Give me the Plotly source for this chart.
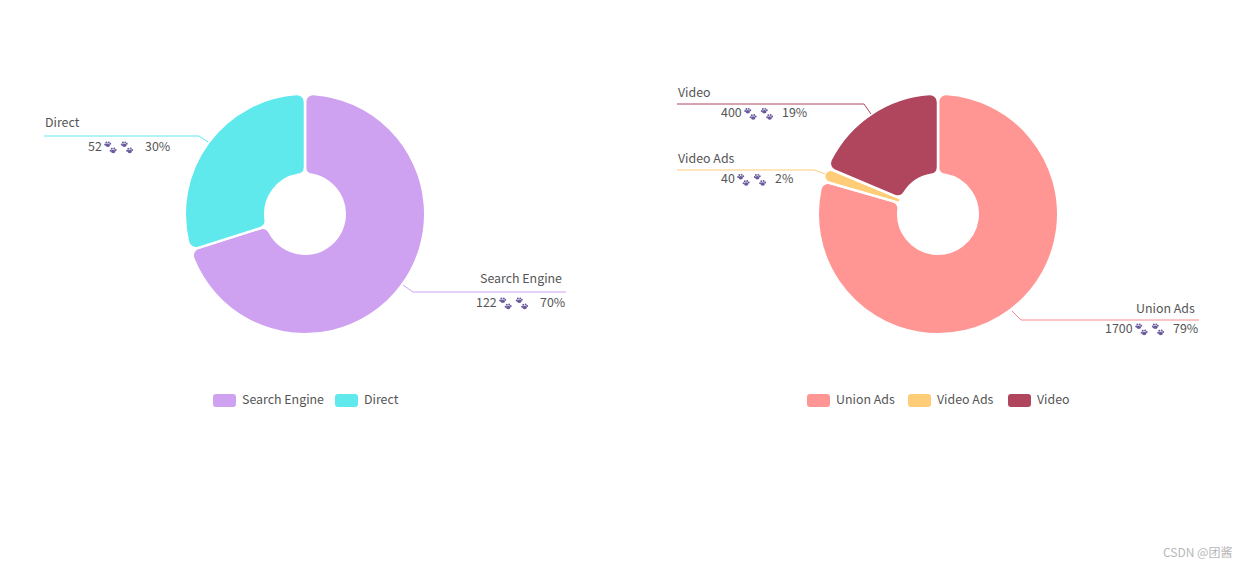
import base64
import plotly.graph_objects as go

W, H = 1247, 568
left_labels = ["Search Engine", "Direct"]
left_values = [122, 52]
left_colors = ["#CFA2F1", "#5FE9ED"]
right_labels = ["Union Ads", "Video Ads", "Video"]
right_values = [1700, 40, 400]
right_colors = ["#FF9694", "#FFCC77", "#B0455E"]
pcts = {"Search Engine": "70%", "Direct": "30%", "Union Ads": "79%", "Video Ads": "2%", "Video": "19%"}

FONT = "Noto Sans CJK SC"
TXT = "#555555"
px = lambda x: x / W
py = lambda y: 1 - y / H
R = 120.25
CY = 214


def pie(cx, labels, values, colors):
    return go.Pie(
        labels=labels, values=values, sort=False, direction="clockwise", rotation=0,
        hole=39.75 / 120.25, textinfo="none", hoverinfo="label+value+percent", showlegend=False,
        marker=dict(colors=colors, line=dict(color="white", width=2.5)),
        domain=dict(x=[px(cx - R), px(cx + R)], y=[py(CY + R), py(CY - R)]),
    )


fig = go.Figure([pie(305, left_labels, left_values, left_colors),
                 pie(938, right_labels, right_values, right_colors)])

ann, shapes, images = [], [], []


def text(x, y, s, anchor="left", color=TXT, size=12.4, font=FONT):
    ann.append(dict(x=px(x), y=py(y - 0.7), xref="paper", yref="paper", text=s, showarrow=False,
                    xanchor=anchor, yanchor="middle", borderpad=0, borderwidth=0,
                    font=dict(family=font, size=size, color=color)))


foot = ('<ellipse cx="7" cy="8" rx="4" ry="3.3"/><circle cx="2.2" cy="6.4" r="1.8"/>'
        '<circle cx="4.4" cy="2.9" r="1.8"/><circle cx="8.8" cy="2.5" r="1.8"/><circle cx="11.6" cy="5.2" r="1.8"/>')
paw_svg = ('<svg xmlns="http://www.w3.org/2000/svg" viewBox="0 0 24 24"><g fill="#6A5A9C">'
           f'<g>{foot}</g><g transform="translate(10,11.5)">{foot}</g></g></svg>')
paw_uri = "data:image/svg+xml;base64," + base64.b64encode(paw_svg.encode()).decode()


def paws(x, y):
    for dx in (0, 16.5):
        images.append(dict(source=paw_uri, xref="paper", yref="paper", x=px(x + dx), y=py(y),
                           sizex=13 / W, sizey=13 / H, xanchor="left", yanchor="top",
                           sizing="stretch", layer="above"))


def callout(name, value, color, tx, ty, anchor, line, vx, paw_x, px_x, vy):
    text(tx, ty, name, anchor)
    shapes.append(dict(type="path", xref="paper", yref="paper",
                       path="M " + " L ".join(f"{px(a)},{py(b)}" for a, b in line),
                       line=dict(color=color, width=1), fillcolor="rgba(0,0,0,0)"))
    text(vx, vy, str(value), "left")
    paws(paw_x, vy - 5.5)
    text(px_x, vy, pcts[name], "left")


callout("Direct", 52, "#5FE9ED", 45, 123, "left", [(44, 136), (199, 136), (208, 142)], 88, 104, 145, 146.5)
callout("Search Engine", 122, "#CFA2F1", 562, 279, "right", [(566, 292), (413, 292), (403, 285)], 476, 499, 540, 302.5)
callout("Union Ads", 1700, "#F58A8C", 1195, 309, "right", [(1199, 320), (1021, 320), (1012, 311)], 1105, 1135, 1173, 328.5)
callout("Video", 400, "#B0455E", 678, 93, "left", [(677, 104), (864, 104), (871, 114)], 721, 744, 782, 113)
callout("Video Ads", 40, "#FFCC77", 678, 159, "left", [(677, 170), (814, 170), (825, 174)], 721, 737, 775, 179)


def legend_item(x, name, color):
    y0, y1, x1, r = 394, 407, x + 23, 3
    p = (f"M {px(x + r)},{py(y0)} L {px(x1 - r)},{py(y0)} Q {px(x1)},{py(y0)} {px(x1)},{py(y0 + r)} "
         f"L {px(x1)},{py(y1 - r)} Q {px(x1)},{py(y1)} {px(x1 - r)},{py(y1)} L {px(x + r)},{py(y1)} "
         f"Q {px(x)},{py(y1)} {px(x)},{py(y1 - r)} L {px(x)},{py(y0 + r)} Q {px(x)},{py(y0)} {px(x + r)},{py(y0)} Z")
    shapes.append(dict(type="path", xref="paper", yref="paper", path=p, fillcolor=color, line=dict(width=0)))
    text(x + 29, 400, name, "left", "#555555")


for x, n, c in [(213, "Search Engine", left_colors[0]), (335, "Direct", left_colors[1]),
                (807, "Union Ads", right_colors[0]), (908, "Video Ads", right_colors[1]),
                (1008, "Video", right_colors[2])]:
    legend_item(x, n, c)

text(1232, 552, "CSDN @团酱", "right", "#b8b8b8", 12)

fig.update_layout(width=W, height=H, autosize=False, margin=dict(l=0, r=0, t=0, b=0),
                  paper_bgcolor="white", plot_bgcolor="white", annotations=ann, shapes=shapes, images=images)

# Plotly pies have no corner radius: reshape each drawn slice using the angles plotly computed.
ROUND_JS = """
document.body.style.margin='0';document.body.style.overflow='hidden';
var gd=document.querySelector('.js-plotly-plot');
var C=8;
function sector(cx,cy,r0,r1,a0,a1){
  function P(r,a){return (cx+r*Math.sin(a)).toFixed(3)+','+(cy-r*Math.cos(a)).toFixed(3);}
  var s=Math.sin((a1-a0)/2);
  if((a1-a0)>=Math.PI) s=1;
  var co=Math.min(C,r1*s/(1+s)), ci=Math.min(C,r0*s/(1-s||1));
  var dO=Math.asin(co/(r1-co)), dI=Math.asin(ci/(r0+ci));
  var eO=Math.sqrt(Math.pow(r1-co,2)-co*co), eI=Math.sqrt(Math.pow(r0+ci,2)-ci*ci);
  var big=(a1-a0-2*dO)>Math.PI?1:0, bigI=(a1-a0-2*dI)>Math.PI?1:0;
  return 'M'+P(eO,a0)+'A'+co+','+co+' 0 0 1 '+P(r1,a0+dO)
    +'A'+r1+','+r1+' 0 '+big+' 1 '+P(r1,a1-dO)
    +'A'+co+','+co+' 0 0 1 '+P(eO,a1)
    +'L'+P(eI,a1)
    +'A'+ci+','+ci+' 0 0 1 '+P(r0,a1-dI)
    +'A'+r0+','+r0+' 0 '+bigI+' 0 '+P(r0,a0+dI)
    +'A'+ci+','+ci+' 0 0 1 '+P(eI,a0)+'Z';
}
gd.querySelectorAll('.trace').forEach(function(tr,t){
  var cd=gd.calcdata[t];
  if(!cd||!cd[0].r) return;
  var r1=cd[0].r, r0=r1*gd.data[t].hole, cx=cd[0].cx, cy=cd[0].cy;
  tr.querySelectorAll('g.slice').forEach(function(g,i){
    var pt=g.__data__, path=g.querySelector('path.surface');
    path.setAttribute('d',sector(cx,cy,r0,r1,pt.startangle,pt.stopangle));
  });
});
"""
fig.write_html("out.html", post_script=ROUND_JS, config={"displayModeBar": False})
